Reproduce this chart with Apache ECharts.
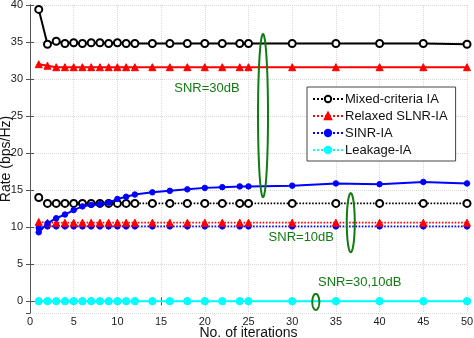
<!DOCTYPE html>
<html>
<head>
<meta charset="utf-8">
<script src="https://cdn.jsdelivr.net/npm/echarts@6/dist/echarts.min.js"></script>
<style>html,body{margin:0;padding:0;background:#fff;}#c{width:474px;height:338px;}</style>
</head>
<body>
<div id="c"></div>
<script>
// ---- data ----
const iterations = [1,2,3,4,5,6,7,8,9,10,11,12,14,16,18,20,22,24,25,30,35,40,45,50];
const xTicks = [0,5,10,15,20,25,30,35,40,45,50];
const yTicks = [0,5,10,15,20,25,30,35,40];
// SNR = 30 dB (solid lines)
const mixed30 = [39.4,34.7,35.1,34.8,34.9,34.8,34.9,34.9,34.8,34.9,34.8,34.8,34.8,34.8,34.8,34.8,34.8,34.8,34.8,34.8,34.8,34.8,34.8,34.7];
const slnr30  = [32.0,31.8,31.6,31.6,31.6,31.6,31.6,31.6,31.6,31.6,31.6,31.6,31.6,31.6,31.6,31.6,31.6,31.6,31.6,31.6,31.6,31.6,31.6,31.6];
const sinr30  = [9.3,10.5,11.2,11.7,12.3,12.8,13.0,13.1,13.3,13.8,14.1,14.4,14.7,14.9,15.1,15.3,15.4,15.5,15.5,15.6,15.9,15.8,16.1,15.9];
const leak30  = [0,0,0,0,0,0,0,0,0,0,0,0,0,0,0,0,0,0,0,0,0,0,0,0];
// SNR = 10 dB (dotted lines)
const mixed10 = [14.0,13.2,13.2,13.2,13.2,13.2,13.2,13.2,13.2,13.2,13.2,13.2,13.2,13.2,13.2,13.2,13.2,13.2,13.2,13.2,13.2,13.2,13.2,13.2];
const slnr10  = [10.7,10.6,10.6,10.6,10.6,10.6,10.6,10.6,10.6,10.6,10.6,10.6,10.6,10.6,10.6,10.6,10.6,10.6,10.6,10.6,10.6,10.6,10.6,10.6];
const sinr10  = [9.9,10.1,10.1,10.1,10.1,10.1,10.1,10.1,10.1,10.1,10.1,10.1,10.1,10.1,10.1,10.1,10.1,10.1,10.1,10.1,10.1,10.1,10.1,10.1];
const leak10  = [0,0,0,0,0,0,0,0,0,0,0,0,0,0,0,0,0,0,0,0,0,0,0,0];
const legendNames = ['Mixed-criteria IA','Relaxed SLNR-IA','SINR-IA','Leakage-IA'];
// annotations (data coordinates)
const notes = [
  {text:'SNR=30dB', x:16.5, y:28.8},
  {text:'SNR=10dB', x:27.3, y:8.65},
  {text:'SNR=30,10dB', x:32.95, y:2.57}
];
const ellipses = [
  {x:26.66, y:25.07, rx:5, ry:81.5},
  {x:36.7, y:10.6, rx:4, ry:29.5},
  {x:32.7, y:-0.1, rx:3.5, ry:8}
];

const pairs = arr => iterations.map((x,i)=>[x,arr[i]]);
const FONT = '"Liberation Sans", Arial, sans-serif';
const green = '#137a13';

function mk(name, arr, color, symbol, size, dotted, hollow){
  return {
    name, type:'line', data:pairs(arr), symbol, symbolSize:size,
    lineStyle:{color, width: dotted?1.6:2, type: dotted?'dotted':'solid'},
    itemStyle: hollow ? {color:color, borderColor:color, borderWidth:1.6} : {color, borderColor:color, borderWidth:1},
    emphasis:{disabled:true}, z: dotted?2:3
  };
}

const chart = echarts.init(document.getElementById('c'), null, {renderer:'canvas'});
const option = {
  animation:false,
  backgroundColor:'#fff',
  textStyle:{fontFamily:FONT},
  grid:{left:30, right:7, top:5, bottom:25, containLabel:false, outerBoundsMode:'none'},
  legend:{
    data:legendNames, orient:'vertical', left:307, top:87,
    backgroundColor:'#fff', borderColor:'#444', borderWidth:1,
    padding:[5,8,4,5], itemGap:3, itemWidth:30, itemHeight:8,
    textStyle:{fontSize:13, color:'#111', fontFamily:FONT, padding:[0,0,0,-3], lineHeight:14}
  },
  xAxis:[{
    type:'value', min:0, max:50, interval:5,
    name:'No. of iterations', nameLocation:'middle', nameGap:13, nameMoveOverlap:false,
    nameTextStyle:{fontSize:14, color:'#111', fontFamily:FONT},
    axisLine:{lineStyle:{color:'#555'}},
    axisTick:{inside:true, length:4, lineStyle:{color:'#555'}},
    axisLabel:{fontSize:11, color:'#222', margin:3, fontFamily:FONT},
    splitLine:{show:true, lineStyle:{color:'#d8d8d8', type:'dotted'}}
  },{
    type:'value', position:'top', min:0, max:50, interval:5,
    axisLine:{show:true, lineStyle:{color:'#555'}},
    axisTick:{inside:true, length:4, lineStyle:{color:'#555'}},
    axisLabel:{show:false}, splitLine:{show:false}
  }],
  yAxis:[{
    type:'value', min:-1.6, max:40, splitNumber:8,
    name:'Rate (bps/Hz)', nameLocation:'middle', nameGap:17, nameMoveOverlap:false,
    nameTextStyle:{fontSize:14, color:'#111', fontFamily:FONT},
    axisLine:{show:true, lineStyle:{color:'#555'}},
    axisTick:{inside:true, length:4, lineStyle:{color:'#555'}},
    axisLabel:{fontSize:11, color:'#222', margin:7, fontFamily:FONT, showMinLabel:false,
      formatter: v => (yTicks.indexOf(v) >= 0 ? String(v) : '')},
    splitLine:{show:true, lineStyle:{color:'#d8d8d8', type:'dotted'}}
  },{
    type:'value', position:'right', min:-1.6, max:40, splitNumber:8,
    axisLine:{show:true, lineStyle:{color:'#555'}},
    axisTick:{inside:true, length:4, lineStyle:{color:'#555'}},
    axisLabel:{show:false}, splitLine:{show:false}
  }],
  series:[
    mk('Leakage-IA', leak10, '#00ffff', 'circle', 7, true, false),
    mk('SINR-IA', sinr10, '#0000ff', 'circle', 5.5, true, false),
    mk('Relaxed SLNR-IA', slnr10, '#ff0000', 'triangle', 7, true, false),
    mk('Mixed-criteria IA', mixed10, '#000000', 'emptyCircle', 7, true, true),
    mk('Leakage-IA (30dB)', leak30, '#00ffff', 'circle', 7, false, false),
    mk('SINR-IA (30dB)', sinr30, '#0000ff', 'circle', 5.5, false, false),
    mk('Relaxed SLNR-IA (30dB)', slnr30, '#ff0000', 'triangle', 7, false, false),
    mk('Mixed-criteria IA (30dB)', mixed30, '#000000', 'emptyCircle', 7, false, true)
  ]
};
chart.setOption(option);

const graphics = [];
notes.forEach(n => {
  const p = chart.convertToPixel({gridIndex:0}, [n.x, n.y]);
  graphics.push({type:'text', x:p[0], y:p[1], z:50,
    style:{text:n.text, fill:green, font:'13px ' + FONT, textAlign:'left', textVerticalAlign:'middle', verticalAlign:'middle'}});
});
ellipses.forEach(e => {
  const c = chart.convertToPixel({gridIndex:0}, [e.x, e.y]);
  const pts = [];
  for (let k=0;k<72;k++){ const a = k/72*Math.PI*2; pts.push([c[0]+e.rx*Math.cos(a), c[1]+e.ry*Math.sin(a)]); }
  graphics.push({type:'polygon', z:50, shape:{points:pts}, style:{fill:'none', stroke:green, lineWidth:2}});
});
chart.setOption({graphic:graphics});
</script>
</body>
</html>
